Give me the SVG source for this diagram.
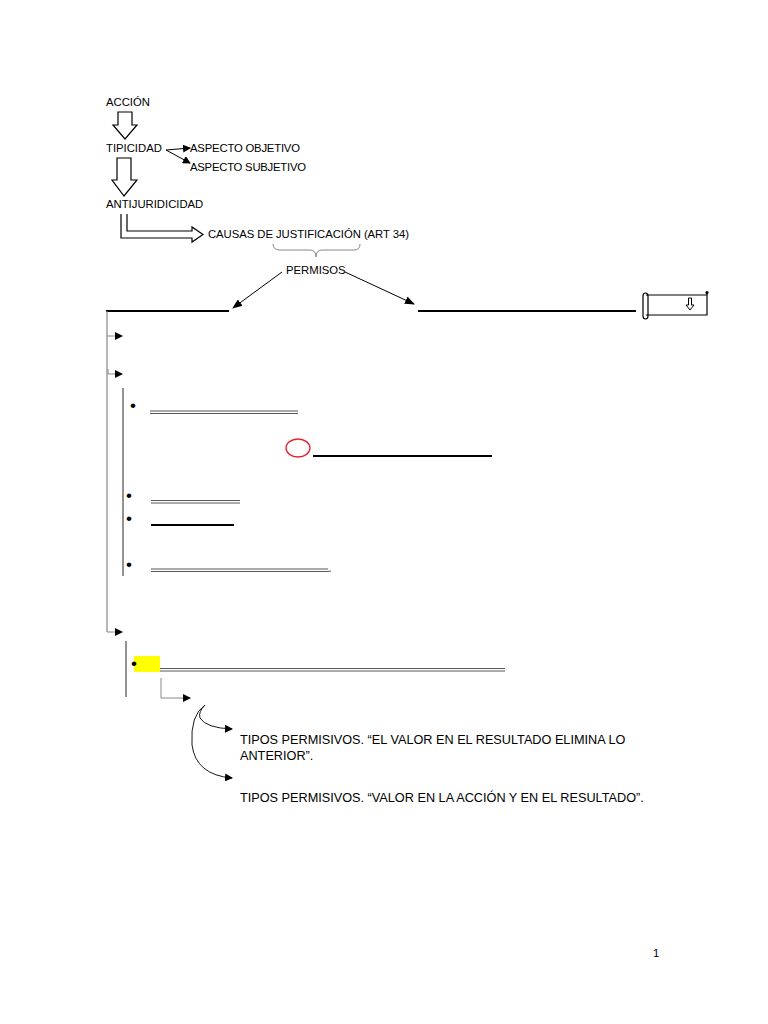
<svg xmlns="http://www.w3.org/2000/svg" width="768" height="1024" viewBox="0 0 768 1024">
<style>
.c{font-family:"Liberation Sans",Arial,sans-serif;font-size:11.3px;fill:#000}
.a{font-family:"Liberation Sans",Arial,sans-serif;font-size:12.7px;fill:#000}
.bk{stroke:#000;fill:none}
.gr{stroke:#888;fill:none}
.dbl{stroke:#555;stroke-width:1;fill:none}
.blt{font-family:"Liberation Sans",Arial,sans-serif;font-size:17px;fill:#000}
</style>
<defs>
<marker id="ah" markerWidth="8" markerHeight="8" refX="7" refY="4" orient="auto" markerUnits="userSpaceOnUse">
<path d="M0,0 L8,4 L0,8 Z" fill="#000"/>
</marker>
<marker id="ahs" markerWidth="10" markerHeight="8" refX="9" refY="4" orient="auto" markerUnits="userSpaceOnUse">
<path d="M0,0 L10,4 L0,8 Z" fill="#000"/>
</marker>
</defs>
<rect width="768" height="1024" fill="#fff"/>

<g id="accion"><text class="c" x="106" y="106">ACCIÓN</text></g>
<g id="tipicidad"><text class="c" x="106" y="152">TIPICIDAD</text></g>
<g id="aspecto-objetivo"><text class="c" x="190" y="152" textLength="110">ASPECTO OBJETIVO</text></g>
<g id="aspecto-subjetivo"><text class="c" x="190" y="171" textLength="116">ASPECTO SUBJETIVO</text></g>
<g id="antijuridicidad"><text class="c" x="106" y="208">ANTIJURIDICIDAD</text></g>
<g id="causas"><text class="c" x="208" y="238" textLength="201">CAUSAS DE JUSTIFICACIÓN (ART 34)</text></g>
<g id="permisos"><text class="c" x="286" y="274">PERMISOS</text></g>

<g id="scroll">
<path class="bk" stroke-width="1.2" d="M646,295 L707,295 L707,315 L646,315"/>
<path class="bk" stroke-width="1.2" d="M643,296 Q643,293 645.5,293 Q648,293 648,296 L648,316 Q648,319 645.5,319 Q643,319 643,316 Z"/>
<path class="bk" stroke-width="1.2" d="M707,295 L707,292"/>
<circle cx="707" cy="292.5" r="1.6" fill="#000"/>
<path class="bk" stroke-width="1" d="M688.5,298 L691.5,298 L691.5,305 L694,305 L690,310 L686,305 L688.5,305 Z"/>
</g>

<g id="bullets">
<text class="blt" x="130" y="411">•</text>
<text class="blt" x="126" y="501">•</text>
<text class="blt" x="126" y="524">•</text>
<text class="blt" x="126" y="570">•</text>
<rect x="134" y="656" width="26" height="16" fill="#ffff00"/>
<text class="blt" x="131" y="669">•</text>
<ellipse cx="298" cy="448" rx="12" ry="9" fill="none" stroke="#e8202a" stroke-width="1.3"/>
</g>

<g id="texts-bottom">
<text class="a" x="240" y="744">TIPOS PERMISIVOS. “EL VALOR EN EL RESULTADO ELIMINA LO</text>
<text class="a" x="240" y="760">ANTERIOR”.</text>
<text class="a" x="240" y="802">TIPOS PERMISIVOS. “VALOR EN LA ACCIÓN Y EN EL RESULTADO”.</text>
<text class="c" x="653" y="957" font-size="12">1</text>
</g>

<g id="connectors">
<path class="bk" stroke-width="1.2" d="M118,112 L132,112 L132,125 L137,125 L125,139 L113,125 L118,125 Z"/>
<path class="bk" stroke-width="1.2" d="M117,158 L131,158 L131,180 L137,180 L124,196 L112,180 L117,180 Z"/>
<path class="bk" stroke-width="1.2" d="M121,214 L121,238 L192,238 L192,242 L203,234.5 L192,227 L192,231 L127,231 L127,214"/>
<path class="bk" stroke-width="1" d="M166,150 L190,148" marker-end="url(#ah)"/>
<path class="bk" stroke-width="1" d="M166,150 L190,163" marker-end="url(#ah)"/>
<path class="gr" stroke-width="1" d="M273,244 Q273,250 280,250 L310,250 Q316,250 316,257 Q316,250 322,250 L354,250 Q360,250 360,244"/>
<path class="bk" stroke-width="1" d="M282,272 L233,308" marker-end="url(#ahs)"/>
<path class="bk" stroke-width="1" d="M345,272 L414,304" marker-end="url(#ahs)"/>
<path class="bk" stroke-width="2" d="M106,311 L229,311"/>
<path class="bk" stroke-width="2" d="M418,311 L636,311"/>
<path class="gr" stroke-width="1.2" d="M107,311 L107,632"/>
<path class="gr" stroke-width="1" d="M107,336 L122,336" marker-end="url(#ah)"/>
<path class="gr" stroke-width="1" d="M108,369 L108,374 L122,374" marker-end="url(#ah)"/>
<path class="gr" stroke-width="1" d="M107,632 L122,632" marker-end="url(#ah)"/>
<path stroke="#777" stroke-width="1.6" fill="none" d="M123,388 L123,576"/>
<path stroke="#777" stroke-width="1.6" fill="none" d="M126,641 L126,697"/>
<path class="dbl" d="M150,411 L298,411 M150,413.5 L298,413.5"/>
<path class="bk" stroke-width="2" d="M313,456 L492,456"/>
<path class="dbl" d="M151,500.5 L240,500.5 M151,503 L240,503"/>
<path class="bk" stroke-width="1.8" d="M151,525 L234,525"/>
<path class="dbl" stroke="#000" d="M151,569 L328,569 M151,571.5 L328,571.5 L331,571"/>
<path class="dbl" d="M160,668.5 L505,668.5 M160,671 L505,671"/>
<path class="gr" stroke-width="1" d="M161,678 L161,698 L190,698" marker-end="url(#ah)"/>
<path class="bk" stroke-width="0.9" d="M205,705 Q198,712 200,718 Q206,728 232,729" marker-end="url(#ah)"/>
<path class="bk" stroke-width="0.9" d="M205,705 Q190,715 192,745 Q196,775 232,778" marker-end="url(#ah)"/>
</g>
</svg>
